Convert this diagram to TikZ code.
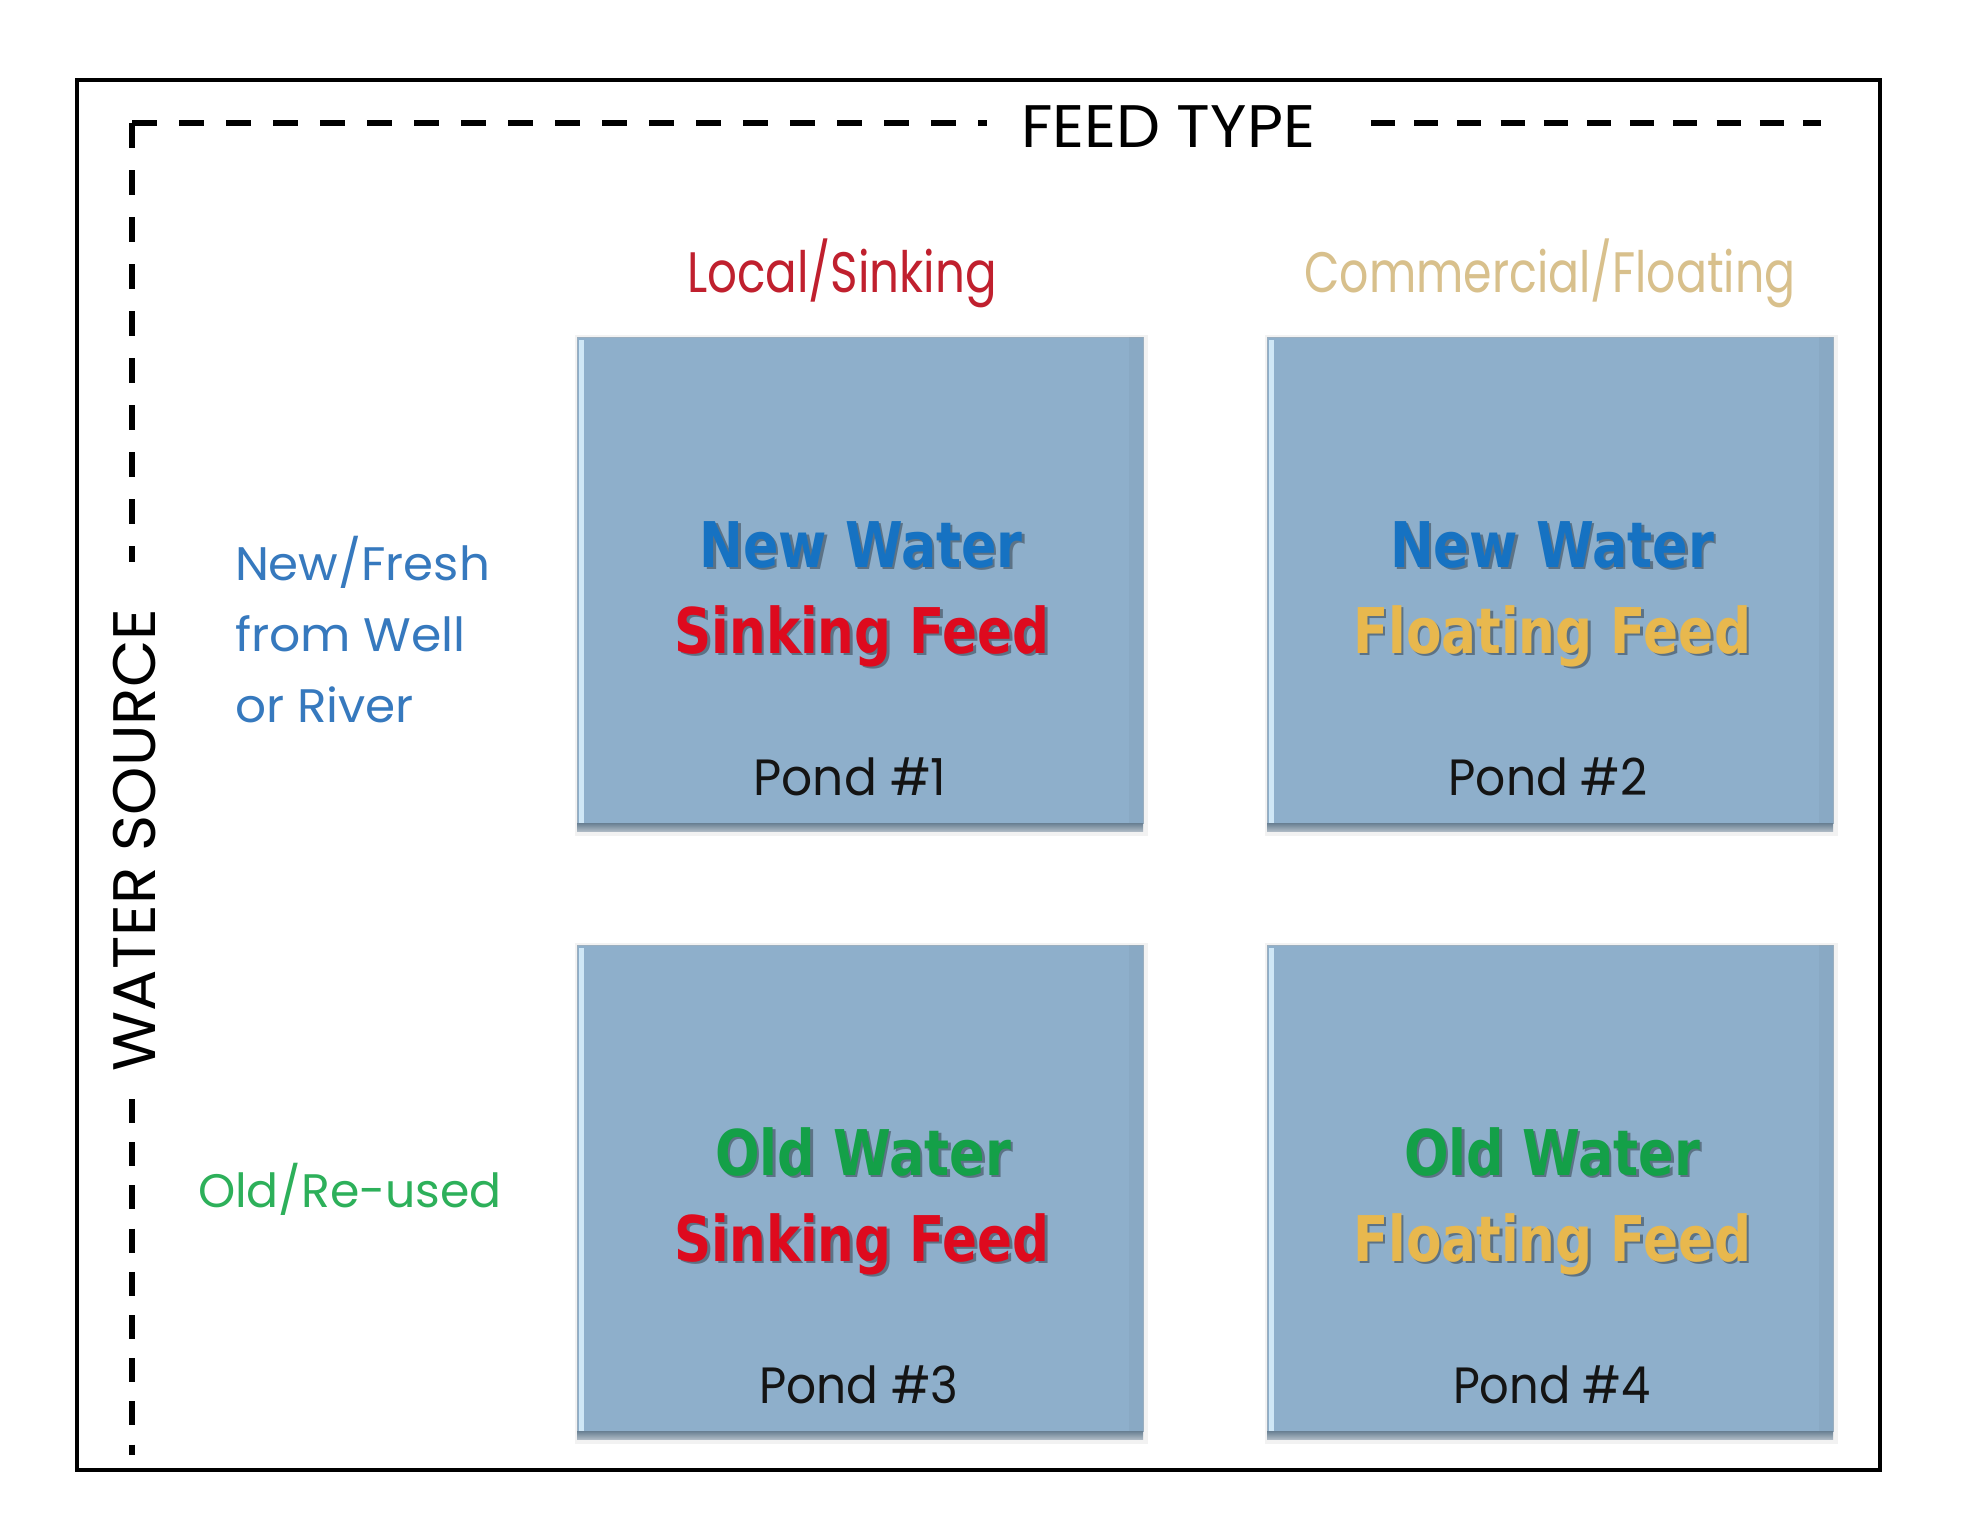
\documentclass[tikz,border=0pt]{standalone}
\usepackage{fontspec}
\usepackage{graphicx}
\setmainfont{Poppins}
\newfontfamily\heavyfont{DejaVu Sans}
\definecolor{boxfill}{HTML}{8EAFCB}
\definecolor{boxedge}{HTML}{9AAEBF}
\definecolor{boxdark}{HTML}{687F92}
\definecolor{boxhi}{HTML}{CFE7F6}
\definecolor{localred}{HTML}{C0202E}
\definecolor{commtan}{HTML}{D8C08C}
\definecolor{freshblue}{HTML}{3679BE}
\definecolor{oldgreen}{HTML}{2DB05A}
\definecolor{newblue}{HTML}{1672C2}
\definecolor{sinkred}{HTML}{DE0A1E}
\definecolor{floatgold}{HTML}{E8B84E}
\definecolor{oldwgreen}{HTML}{14A048}
\definecolor{shadowc}{HTML}{202830}
\newcommand\fitw[2]{\resizebox{#1}{\height}{#2}}
\newcommand\boldlbl[6]{%
  \node[boldtxt, text=shadowc, opacity=0.45, xshift=1.3pt, yshift=-1.3pt] (#1s) at (#2,#3) {\fitw{#4}{#6}};
  \node[boldtxt, text=#5] (#1) at (#2,#3) {\fitw{#4}{#6}};}
\begin{document}
\begin{tikzpicture}[x=0.5pt, y=-0.5pt,
  every node/.style={inner sep=0pt, outer sep=0pt},
  framebox/.style={draw=black, line width=1.75pt},
  dashline/.style={line width=3pt, dash pattern=on 12.5pt off 11pt},
  dashlinetight/.style={line width=3pt, dash pattern=on 12pt off 9.6pt},
  pondbox/.style={fill=boxfill, draw=boxedge, line width=0.5pt, minimum width=283pt, minimum height=243pt},
  headtxt/.style={font=\fontsize{30}{30}\selectfont, text=black, anchor=base},
  coltxt/.style={font=\fontsize{28.5}{28.5}\selectfont, anchor=base},
  rowtxt/.style={font=\fontsize{23.5}{23.5}\selectfont, anchor=base west},
  pondtxt/.style={font=\fontsize{25.5}{25.5}\selectfont, text=black!92, anchor=base},
  boldtxt/.style={font=\heavyfont\bfseries\fontsize{31.5}{31.5}\selectfont, anchor=base}
]
\useasboundingbox (0,0) rectangle (1981,1522);
\fill[white] (0,0) rectangle (1981,1522);

% outer frame
\coordinate (fnw) at (77,80);
\coordinate (fse) at (1880,1470);
\draw[framebox] (fnw) rectangle (fse);

% axis labels
\node[headtxt] (feedtype) at (1168,147) {\fitw{147pt}{FEED TYPE}};
\node[headtxt, rotate=90] (watersrc) at (155,840) {\fitw{231pt}{WATER SOURCE}};

% dashed axes
\coordinate (corner) at (132,123);
\coordinate (hend) at (987,123);
\coordinate (hstart2) at (1371,123);
\coordinate (hend2) at (1821,123);
\coordinate (vend) at (132,562);
\coordinate (vstart2) at (132,1099);
\coordinate (vend2) at (132,1455);
\draw[dashline] (corner) -- (hend);
\draw[dashline] (corner) -- (vend);
\draw[dashlinetight] (hstart2) -- (hend2);
\draw[dashlinetight] (vstart2) -- (vend2);

% column headers
\node[coltxt, text=localred] (local) at (842,292) {\fitw{155pt}{Local/Sinking}};
\node[coltxt, text=commtan] (commercial) at (1550,292) {\fitw{245.5pt}{Commercial/Floating}};

% row headers
\node[rowtxt, text=freshblue] (fresh1) at (235,580) {\fitw{127.5pt}{New/Fresh}};
\node[rowtxt, text=freshblue] (fresh2) at (235,651) {\fitw{115.5pt}{from Well}};
\node[rowtxt, text=freshblue] (fresh3) at (235,722) {\fitw{89.5pt}{or River}};
\node[rowtxt, text=oldgreen] (oldre) at (198,1207) {\fitw{152pt}{Old/Re-used}};

% pond boxes
\foreach \n/\cx/\cy in {p1/860/580, p2/1550/580, p3/860/1188, p4/1550/1188}{
  \fill[black, opacity=0.05] (\cx-285,\cy-245) rectangle (\cx+288,\cy+256);
  \node[pondbox] (\n) at (\cx,\cy) {};
  \shade[top color=boxdark, bottom color=boxdark!55!white] (\n.south west) rectangle ([yshift=-4pt]\n.south east);
  \fill[boxhi] ([xshift=1pt,yshift=-1.5pt]\n.north west) rectangle ([xshift=3.5pt]\n.south west);
  \fill[boxdark, opacity=0.12] ([xshift=-7pt]\n.north east) rectangle (\n.south east);
}

% box texts
\boldlbl{nw1}{861}{567}{161.5pt}{newblue}{New Water}
\boldlbl{sf1}{862}{653}{187.5pt}{sinkred}{Sinking Feed}
\node[pondtxt] (pond1) at (850,795) {\fitw{96.5pt}{Pond \#1}};

\boldlbl{nw2}{1552}{567}{162pt}{newblue}{New Water}
\boldlbl{ff2}{1552}{653}{199pt}{floatgold}{Floating Feed}
\node[pondtxt] (pond2) at (1548,795) {\fitw{99.5pt}{Pond \#2}};

\boldlbl{ow3}{863}{1175}{148pt}{oldwgreen}{Old Water}
\boldlbl{sf3}{862}{1261}{187.5pt}{sinkred}{Sinking Feed}
\node[pondtxt] (pond3) at (859,1403) {\fitw{99.5pt}{Pond \#3}};

\boldlbl{ow4}{1552}{1175}{148pt}{oldwgreen}{Old Water}
\boldlbl{ff4}{1552}{1261}{199pt}{floatgold}{Floating Feed}
\node[pondtxt] (pond4) at (1552,1403) {\fitw{99pt}{Pond \#4}};
\end{tikzpicture}
\end{document}
